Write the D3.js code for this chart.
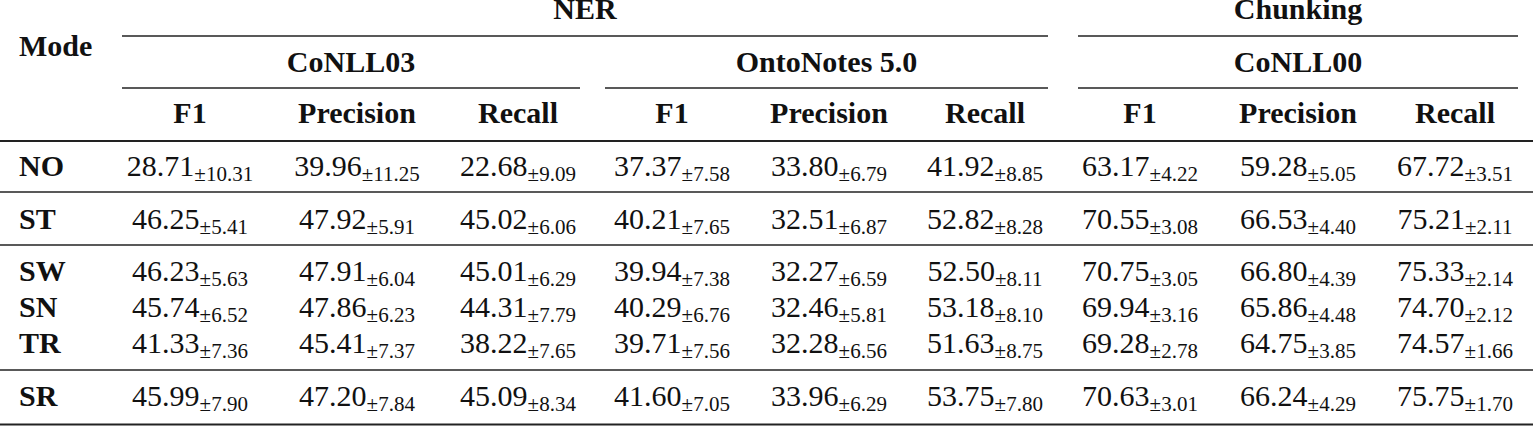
<!DOCTYPE html>
<html>
<head>
<meta charset="utf-8">
<script src="https://cdn.jsdelivr.net/npm/d3@7"></script>
<style>
  body { margin: 0; background: #fff; }
  svg text { font-family: 'Liberation Serif', 'DejaVu Serif', serif; fill: #111; }
</style>
</head>
<body>
<div id="table"></div>
<script>
// table data
let tasks = ['NER', 'Chunking'];
let datasets = ['CoNLL03', 'OntoNotes 5.0', 'CoNLL00'];
let metrics = ['F1', 'Precision', 'Recall'];
let modes = ['NO', 'ST', 'SW', 'SN', 'TR', 'SR'];

let means = [
  [28.71, 39.96, 22.68, 37.37, 33.80, 41.92, 63.17, 59.28, 67.72],
  [46.25, 47.92, 45.02, 40.21, 32.51, 52.82, 70.55, 66.53, 75.21],
  [46.23, 47.91, 45.01, 39.94, 32.27, 52.50, 70.75, 66.80, 75.33],
  [45.74, 47.86, 44.31, 40.29, 32.46, 53.18, 69.94, 65.86, 74.70],
  [41.33, 45.41, 38.22, 39.71, 32.28, 51.63, 69.28, 64.75, 74.57],
  [45.99, 47.20, 45.09, 41.60, 33.96, 53.75, 70.63, 66.24, 75.75]
];
let stds = [
  [10.31, 11.25, 9.09, 7.58, 6.79, 8.85, 4.22, 5.05, 3.51],
  [5.41, 5.91, 6.06, 7.65, 6.87, 8.28, 3.08, 4.40, 2.11],
  [5.63, 6.04, 6.29, 7.38, 6.59, 8.11, 3.05, 4.39, 2.14],
  [6.52, 6.23, 7.79, 6.76, 5.81, 8.10, 3.16, 4.48, 2.12],
  [7.36, 7.37, 7.65, 7.56, 6.56, 8.75, 2.78, 3.85, 1.66],
  [7.90, 7.84, 8.34, 7.05, 6.29, 7.80, 3.01, 4.29, 1.70]
];

let svgWidth = 1533;
let svgHeight = 426;
let serif = "'Liberation Serif', 'DejaVu Serif', serif";

let svg = d3.select('#table').append('svg')
  .attr('width', svgWidth)
  .attr('height', svgHeight);

// column centres and dataset spans
let colCenters = [190, 357, 518, 672, 829, 985, 1140, 1298, 1455];
let groupSpans = [[122, 580], [605, 1048], [1078, 1518]];

// row baselines
let rowY = d3.scaleOrdinal().domain(modes).range([176, 229, 281, 317, 353, 406]);

function hline(x1, x2, y, w) {
  svg.append('line')
    .attr('x1', x1).attr('x2', x2)
    .attr('y1', y).attr('y2', y)
    .attr('stroke', '#222')
    .attr('stroke-width', w);
}

function boldText(x, y, s, anchor) {
  return svg.append('text').attr('x', x).attr('y', y)
    .attr('text-anchor', anchor || 'middle')
    .attr('font-family', serif)
    .attr('font-weight', 'bold').attr('font-size', 30)
    .text(s);
}

// header: tasks (partly cut at top as in the source)
boldText((groupSpans[0][0] + groupSpans[1][1]) / 2, 19, tasks[0]);
boldText((groupSpans[2][0] + groupSpans[2][1]) / 2, 19, tasks[1]);
hline(groupSpans[0][0], groupSpans[1][1], 36, 1.3);
hline(groupSpans[2][0], groupSpans[2][1], 36, 1.3);

boldText(19, 56, 'Mode', 'start');

datasets.forEach(function (d, i) {
  boldText((groupSpans[i][0] + groupSpans[i][1]) / 2, 72, d);
  hline(groupSpans[i][0], groupSpans[i][1], 88, 1.3);
});

colCenters.forEach(function (x, i) {
  boldText(x, 123, metrics[i % 3]);
});

hline(0, svgWidth, 141, 2.2);

// body rows
modes.forEach(function (m, r) {
  let y = rowY(m);
  boldText(19, y, m, 'start');
  colCenters.forEach(function (x, c) {
    let t = svg.append('text').attr('x', x).attr('y', y)
      .attr('text-anchor', 'middle')
      .attr('font-family', serif).attr('font-size', 30);
    t.append('tspan').text(means[r][c].toFixed(2));
    t.append('tspan').attr('font-size', 21).attr('dy', 5)
      .text('\u00b1' + stds[r][c].toFixed(2));
  });
});

hline(0, svgWidth, 192, 1.3);
hline(0, svgWidth, 245, 1.3);
hline(0, svgWidth, 370, 1.3);
hline(0, svgWidth, 424.5, 2.2);
</script>
</body>
</html>
